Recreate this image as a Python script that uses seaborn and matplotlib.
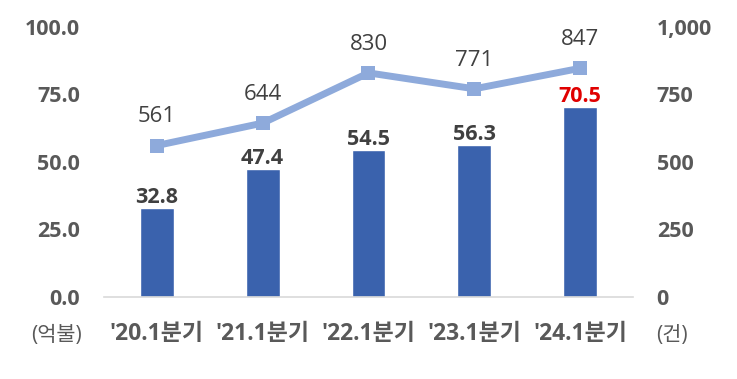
import numpy as np
import pandas as pd
import matplotlib
matplotlib.use('Agg')
import matplotlib.pyplot as plt
import seaborn as sns
from matplotlib.ticker import FuncFormatter

quarters = ["'20.1분기", "'21.1분기", "'22.1분기", "'23.1분기", "'24.1분기"]
amount = [32.8, 47.4, 54.5, 56.3, 70.5]   # 억불 (left axis)
counts = [561, 644, 830, 771, 847]        # 건 (right axis)
left_ticks = [0, 25, 50, 75, 100]
right_ticks = [0, 250, 500, 750, 1000]

BAR_COLOR = '#3A62AD'
LINE_COLOR = '#8EAADB'
TEXT_DARK = '#404040'
TICK_GRAY = '#595959'

sns.set_style('white')
plt.rcParams['font.family'] = ['Open Sans', 'Noto Sans CJK KR', 'DejaVu Sans']

df = pd.DataFrame({'quarter': quarters, 'amount': amount, 'count': counts})

fig = plt.figure(figsize=(7.37, 3.79), dpi=100)
ax = fig.add_axes([0.141, 0.2164, 0.718, 0.7124])

sns.barplot(data=df, x='quarter', y='amount', color=BAR_COLOR, width=0.32,
            saturation=1, ax=ax)
ax.set_ylim(0, 100)
ax.set_yticks(left_ticks)
ax.yaxis.set_major_formatter(FuncFormatter(lambda v, p: f'{v:.1f}'))
ax.set_xlabel('')
ax.set_ylabel('')
ax.set_xlim(-0.5, len(quarters) - 0.5)

# bar value labels (last one red)
labels = ax.bar_label(ax.containers[0], fmt='%.1f', padding=0, fontsize=15.5,
                      fontweight='bold', color=TEXT_DARK)
labels[-1].set_color('#E00000')

ax2 = ax.twinx()
sns.lineplot(data=df, x='quarter', y='count', sort=False, color=LINE_COLOR,
             linewidth=5, marker='s', markersize=10, markeredgewidth=0, ax=ax2)
ax2.set_ylim(0, 1000)
ax2.set_yticks(right_ticks)
ax2.yaxis.set_major_formatter(FuncFormatter(lambda v, p: f'{int(v):,}'))
ax2.set_ylabel('')
ax2.set_xlabel('')

for q, c in zip(df['quarter'], df['count']):
    ax2.annotate(f'{c}', (q, c), xytext=(0, 13), textcoords='offset points',
                 ha='center', va='bottom', fontsize=16, color=TEXT_DARK)

for a in (ax, ax2):
    for s in a.spines.values():
        s.set_visible(False)
    a.tick_params(length=0)
ax.spines['bottom'].set_visible(True)
ax.spines['bottom'].set_color('#D9D9D9')
ax.spines['bottom'].set_linewidth(1.2)

ax.tick_params(axis='y', pad=17, labelsize=15.5, labelcolor=TICK_GRAY)
ax2.tick_params(axis='y', pad=17, labelsize=15.5, labelcolor=TICK_GRAY)
ax.tick_params(axis='x', pad=18, labelsize=16.5, labelcolor=TICK_GRAY)
for t in ax.get_yticklabels() + ax2.get_yticklabels() + ax.get_xticklabels():
    t.set_fontweight('bold')

fig.text(57 / 737, 1 - 335 / 379, '(억불)', ha='center', va='center',
         fontsize=15, color=TICK_GRAY)
fig.text(672 / 737, 1 - 335 / 379, '(건)', ha='center', va='center',
         fontsize=15, color=TICK_GRAY)

fig.savefig('out.png', dpi=100)
